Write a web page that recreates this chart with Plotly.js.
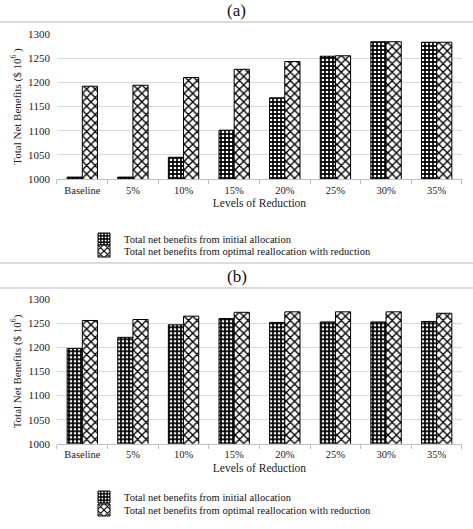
<!DOCTYPE html>
<html><head><meta charset="utf-8">
<script src="https://cdn.plot.ly/plotly-3.0.1.min.js"></script>
<style>html,body{margin:0;padding:0;background:#fff;}#chart{width:473px;height:529px;}</style>
</head><body><div id="chart"></div>
<script>
const categories = ["Baseline","5%","10%","15%","20%","25%","30%","35%"];
const initialA = [1004,1004,1045,1101,1168,1254,1284,1283];
const optimalA = [1192,1194,1210,1227,1243,1255,1284,1283];
const initialB = [1198,1221,1247,1260,1252,1253,1253,1254];
const optimalB = [1256,1258,1265,1273,1274,1274,1274,1271];
const seriesNames = ["Total net benefits from initial allocation","Total net benefits from optimal reallocation with reduction"];
const yTicks = [1000,1050,1100,1150,1200,1250,1300];

const font = "Liberation Serif, Times New Roman, serif";
const patInit = {shape:".", bgcolor:"black", fgcolor:"white", size:4, solidity:0.35, fillmode:"replace"};
const patOpt = {shape:"x", bgcolor:"white", fgcolor:"black", size:6, solidity:0.4, fillmode:"replace"};
function tr(y, name, pat, xa, ya, leg){
  return {type:"bar", x:categories, y:y, name:name, xaxis:xa, yaxis:ya, legend:leg, base:0,
    marker:{color:"white", pattern:pat, line:{color:"black", width:1}}};
}
const data = [
  tr(initialA, seriesNames[0], patInit, "x", "y", "legend"),
  tr(optimalA, seriesNames[1], patOpt, "x", "y", "legend2"),
  tr(initialB, seriesNames[0], patInit, "x2", "y2", "legend3"),
  tr(optimalB, seriesNames[1], patOpt, "x2", "y2", "legend4")
];
const xcommon = {type:"category", showline:true, linecolor:"#bfbfbf", linewidth:1, ticks:"outside", tickson:"boundaries", ticklen:4, tickcolor:"#bfbfbf",
  tickfont:{family:font, size:10.5, color:"#222"}, ticklabelstandoff:1,
  title:{text:"Levels of Reduction", font:{family:font, size:11.5, color:"#222"}, standoff:4}, fixedrange:true};
const ycommon = {range:[1000,1300], tickvals:yTicks, showgrid:true, gridcolor:"#d9d9d9", showline:false, zeroline:false, ticks:"",
  tickfont:{family:font, size:11, color:"#222"}, ticklabelstandoff:6};
const legBase = {x:84/473, xanchor:"left", yanchor:"middle", font:{family:font, size:10.5, color:"#111"}, itemwidth:30, tracegroupgap:0, bgcolor:"rgba(0,0,0,0)", borderwidth:0};
function leg(yPix){ return Object.assign({}, legBase, {y:1-yPix/529}); }
const layout = {
  width:473, height:529, margin:{l:0,r:0,t:0,b:0}, paper_bgcolor:"white", plot_bgcolor:"white",
  barmode:"group", bargap:0.4, bargroupgap:0, showlegend:true,
  xaxis:Object.assign({}, xcommon, {domain:[0.1205,0.9767], anchor:"y"}),
  yaxis:Object.assign({}, ycommon, {domain:[0.6616,0.9357], anchor:"x",
    title:{text:"Total Net Benefits ($ 10<sup>6</sup> )", font:{family:font, size:11, color:"#222"}, standoff:4}}),
  xaxis2:Object.assign({}, xcommon, {domain:[0.1205,0.9767], anchor:"y2"}),
  yaxis2:Object.assign({}, ycommon, {domain:[0.1612,0.4342], anchor:"x2",
    title:{text:"Total Net Benefits ($ 10<sup>6</sup>)", font:{family:font, size:11, color:"#222"}, standoff:4}}),
  legend:leg(239), legend2:leg(251), legend3:leg(497), legend4:leg(510),
  annotations:[
    {text:"(a)", xref:"paper", yref:"paper", x:0.5, y:1-11/529, xanchor:"center", yanchor:"middle", showarrow:false, font:{family:font, size:17, color:"#111"}},
    {text:"(b)", xref:"paper", yref:"paper", x:0.5, y:1-276/529, xanchor:"center", yanchor:"middle", showarrow:false, font:{family:font, size:17, color:"#111"}}
  ],
  shapes:[
    {type:"line", xref:"paper", yref:"paper", x0:0, x1:1, y0:1-22/529, y1:1-22/529, line:{color:"#cfcfcf", width:1.5}},
    {type:"line", xref:"paper", yref:"paper", x0:0, x1:1, y0:1-263/529, y1:1-263/529, line:{color:"#cfcfcf", width:1.5}},
    {type:"line", xref:"paper", yref:"paper", x0:0, x1:1, y0:1-288/529, y1:1-288/529, line:{color:"#cfcfcf", width:1.5}}
  ]
};
Plotly.newPlot("chart", data, layout, {displayModeBar:false, staticPlot:true});
</script></body></html>
